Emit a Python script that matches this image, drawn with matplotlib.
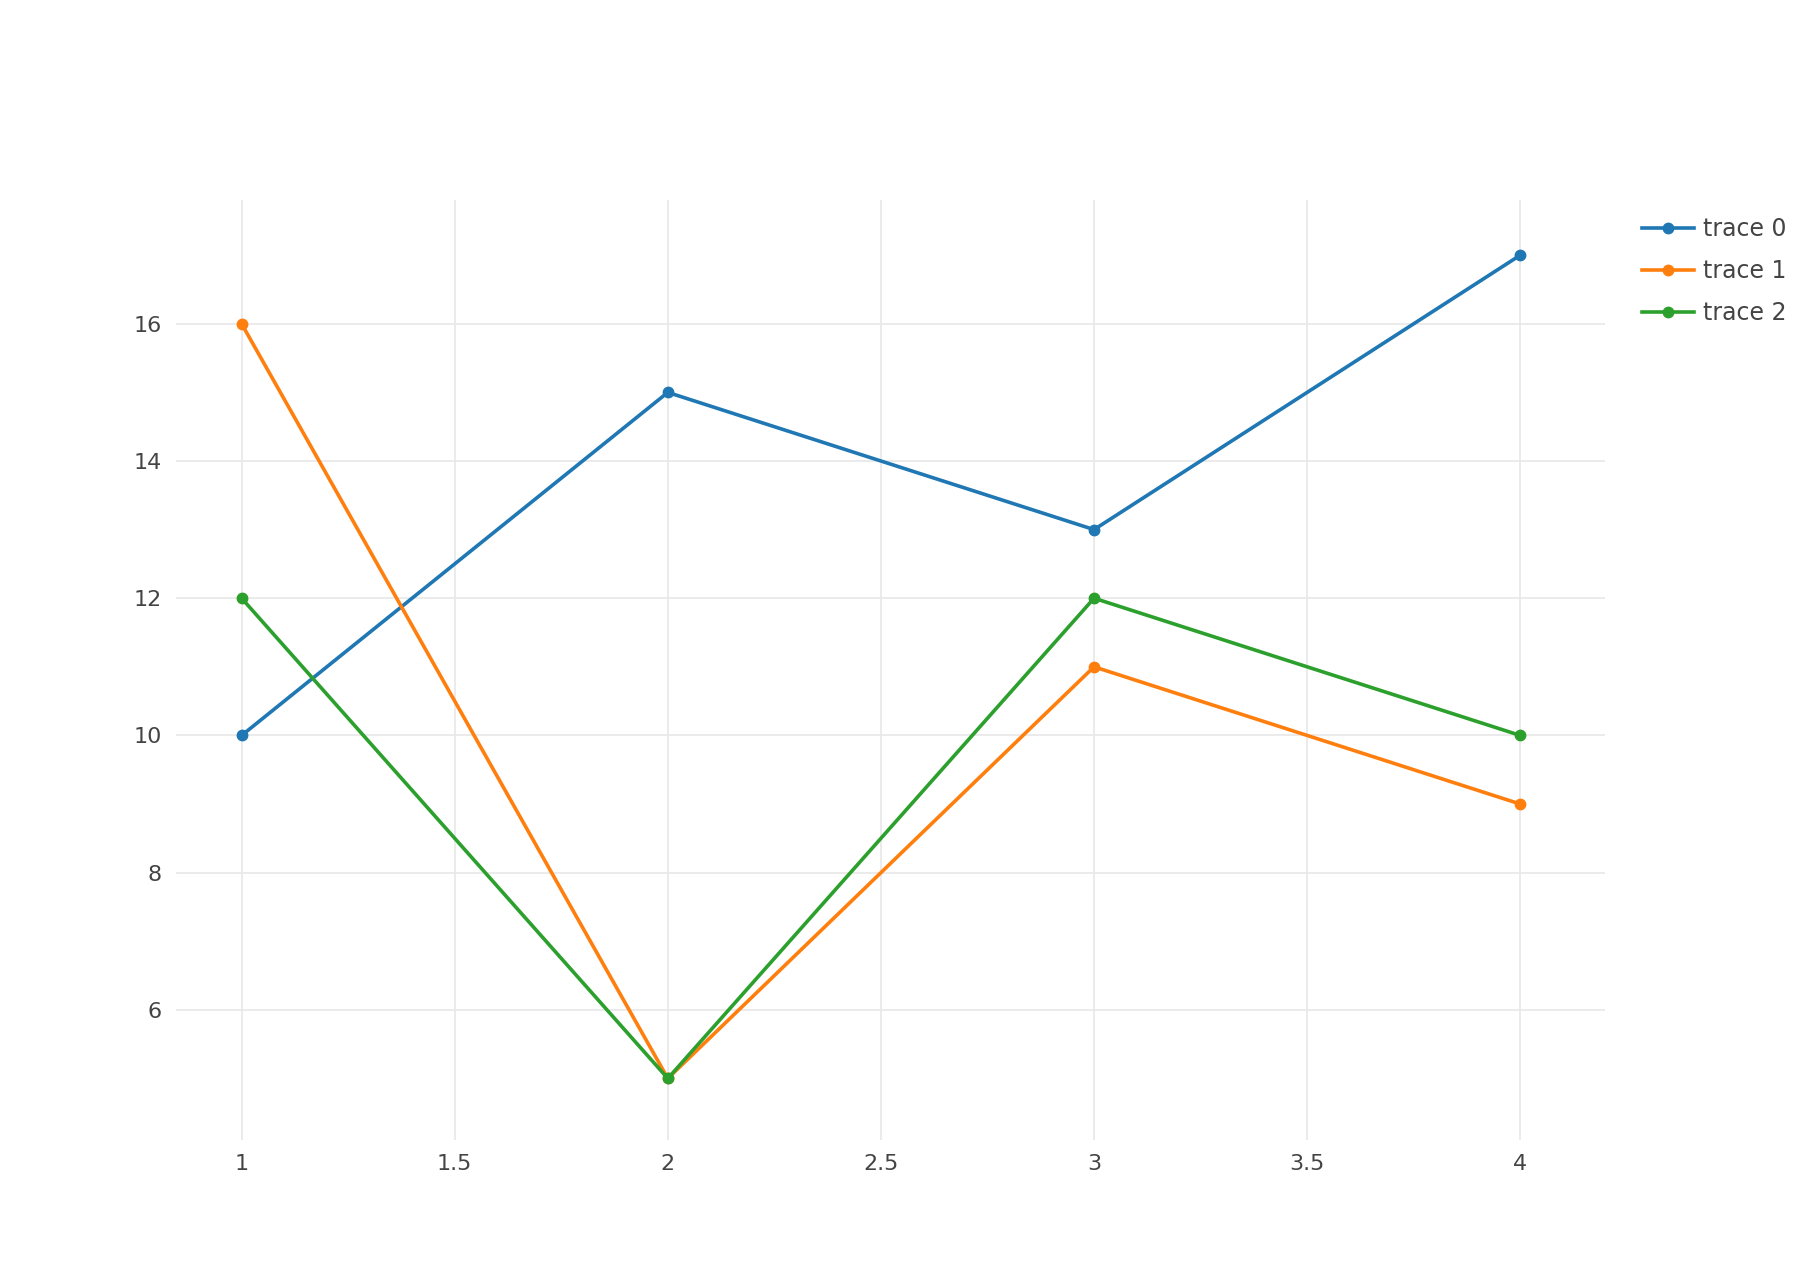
import matplotlib.pyplot as plt

x = [1, 2, 3, 4]
trace0 = [10, 15, 13, 17]
trace1 = [16, 5, 11, 9]
trace2 = [12, 5, 12, 10]
names = ["trace 0", "trace 1", "trace 2"]
colors = ["#1f77b4", "#ff7f0e", "#2ca02c"]

fig = plt.figure(figsize=(18.1, 12.84), dpi=100)
ax = fig.add_axes([0.097, 0.112, 0.79, 0.732])

for ys, name, c in zip([trace0, trace1, trace2], names, colors):
    ax.plot(x, ys, color=c, lw=2.6, marker="o", markersize=7.5, label=name)

ax.set_xlim(0.845, 4.2)
ax.set_ylim(4.1, 17.8)
ax.set_xticks([1, 1.5, 2, 2.5, 3, 3.5, 4])
ax.set_xticklabels(["1", "1.5", "2", "2.5", "3", "3.5", "4"])
ax.set_yticks([6, 8, 10, 12, 14, 16])
ax.grid(True, color="#e8e8e8", lw=1.2)
ax.set_axisbelow(True)
for s in ax.spines.values():
    s.set_visible(False)
ax.tick_params(length=0, labelsize=16, colors="#444444", pad=10)

fig.legend(loc="upper left", bbox_to_anchor=(0.902, 0.838), frameon=False,
           fontsize=17, labelcolor="#444444", handlelength=2.2,
           handletextpad=0.4, labelspacing=0.75, borderaxespad=0)

fig.savefig("out.png", dpi=100)
